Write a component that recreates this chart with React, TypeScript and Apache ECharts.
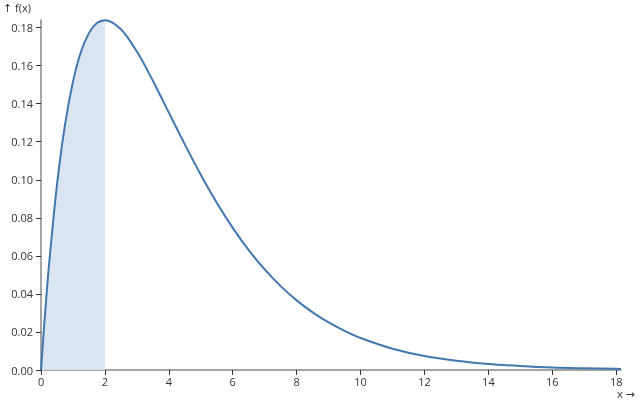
import * as echarts from 'echarts';
import React, { useEffect, useRef } from 'react';

// points
const xs = [0, 0.1, 0.25, 0.5, 0.75, 1, 1.25, 1.5, 1.75, 2, 2.5, 3, 3.5, 4, 4.5, 5, 5.5, 6, 6.5, 7, 7.5, 8, 8.5, 9, 9.5, 10, 11, 12, 13, 14, 15, 16, 17, 18, 18.15];
const ys = [0, 0.0238, 0.0552, 0.0974, 0.1289, 0.1516, 0.1673, 0.1771, 0.1824, 0.1839, 0.1791, 0.1674, 0.1521, 0.1353, 0.1186, 0.1026, 0.0879, 0.0747, 0.063, 0.0529, 0.0441, 0.0366, 0.0303, 0.025, 0.0206, 0.0168, 0.0112, 0.0074, 0.0049, 0.0032, 0.0021, 0.0013, 0.0009, 0.0006, 0.0005];
const shadeTo = 2;
const xTicks = [0, 2, 4, 6, 8, 10, 12, 14, 16, 18];
const yTicks = [0, 0.02, 0.04, 0.06, 0.08, 0.1, 0.12, 0.14, 0.16, 0.18];
const xName = 'x →';
const yName = '↑ f(x)';

const font = '"Open Sans", "DejaVu Sans", sans-serif';

const App: React.FC = () => {
  const ref = useRef<HTMLDivElement>(null);

  useEffect(() => {
    if (!ref.current) return;
    const chart = echarts.init(ref.current, null, { renderer: 'svg' });
    const curve = xs.map((x, i) => [x, ys[i]]);
    const shade = curve.filter((p) => p[0] <= shadeTo);
    const axisCommon = {
      axisLine: { show: true, onZero: false, lineStyle: { color: '#888', width: 1.5 } },
      axisTick: { show: true, length: 5, lineStyle: { color: '#333', width: 1 } },
      splitLine: { show: false },
    };
    chart.setOption({
      animation: false,
      grid: { left: 40, right: 19, top: 20, bottom: 30, containLabel: false },
      xAxis: {
        type: 'value',
        min: 0,
        max: 18.15,
        name: xName,
        nameLocation: 'end',
        nameGap: -4,
        nameTextStyle: {
          color: '#333',
          fontSize: 11,
          fontFamily: font,
          align: 'left',
          verticalAlign: 'top',
          padding: [18, 0, 0, 0],
        },
        ...axisCommon,
        axisTick: { ...axisCommon.axisTick, customValues: xTicks },
        axisLabel: { customValues: xTicks, color: '#333', fontSize: 11, fontFamily: font, margin: 6 },
      },
      yAxis: {
        type: 'value',
        min: 0,
        max: 0.184,
        name: yName,
        nameLocation: 'end',
        nameGap: 13,
        nameTextStyle: {
          color: '#333',
          fontSize: 11,
          fontFamily: font,
          align: 'right',
          verticalAlign: 'middle',
          padding: [0, 10, 0, 0],
        },
        ...axisCommon,
        axisTick: { ...axisCommon.axisTick, customValues: yTicks },
        axisLabel: {
          customValues: yTicks,
          color: '#333',
          fontSize: 11,
          fontFamily: font,
          margin: 8,
          formatter: (v: number) => v.toFixed(2),
        },
      },
      series: [
        {
          type: 'line',
          data: shade,
          smooth: 0.3,
          symbol: 'none',
          lineStyle: { width: 0 },
          areaStyle: { color: '#d9e5f0', opacity: 1 },
          z: 1,
        },
        {
          type: 'line',
          data: curve,
          smooth: 0.3,
          symbol: 'none',
          lineStyle: { color: '#4178ae', width: 2 },
          z: 2,
        },
      ],
    });
    return () => chart.dispose();
  }, []);

  return <div ref={ref} style={{ position: 'fixed', left: 0, top: 0, width: 640, height: 400 }} />;
};

export default App;
